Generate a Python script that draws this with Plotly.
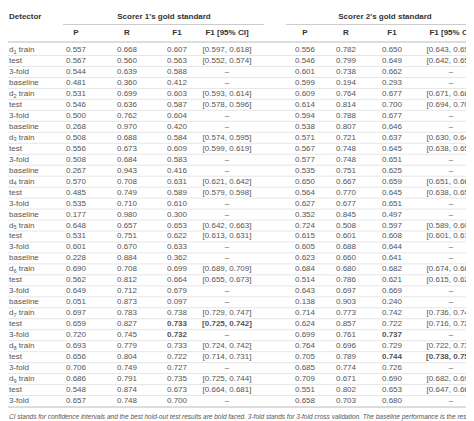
import plotly.graph_objects as go

# row labels
detectors = ["d<sub>%d</sub>" % k for k in range(1, 10)]
settings_full = ["train", "test", "3-fold", "baseline"]
settings_short = ["train", "test", "3-fold"]

# scorer 1: P, R, F1 per row
s1_p = [0.557, 0.567, 0.544, 0.481, 0.531, 0.546, 0.500, 0.268, 0.508, 0.556, 0.508, 0.267,
        0.570, 0.485, 0.535, 0.177, 0.648, 0.531, 0.601, 0.228, 0.690, 0.562, 0.649, 0.051,
        0.697, 0.659, 0.720, 0.693, 0.656, 0.706, 0.686, 0.548, 0.657]
s1_r = [0.668, 0.560, 0.639, 0.360, 0.699, 0.636, 0.762, 0.970, 0.688, 0.673, 0.684, 0.943,
        0.708, 0.749, 0.710, 0.980, 0.657, 0.751, 0.670, 0.884, 0.708, 0.812, 0.712, 0.873,
        0.783, 0.827, 0.745, 0.779, 0.804, 0.749, 0.791, 0.874, 0.748]
s1_f1 = [0.607, 0.563, 0.588, 0.412, 0.603, 0.587, 0.604, 0.420, 0.584, 0.609, 0.583, 0.416,
         0.631, 0.589, 0.610, 0.300, 0.653, 0.622, 0.633, 0.362, 0.699, 0.664, 0.679, 0.097,
         0.738, 0.733, 0.732, 0.733, 0.722, 0.727, 0.735, 0.673, 0.700]
s1_ci = [(0.597, 0.618), (0.552, 0.574), None, None, (0.593, 0.614), (0.578, 0.596), None, None,
         (0.574, 0.595), (0.599, 0.619), None, None, (0.621, 0.642), (0.579, 0.598), None, None,
         (0.642, 0.663), (0.613, 0.631), None, None, (0.689, 0.709), (0.655, 0.673), None, None,
         (0.729, 0.747), (0.725, 0.742), None, (0.724, 0.742), (0.714, 0.731), None,
         (0.725, 0.744), (0.664, 0.681), None]

# scorer 2
s2_p = [0.556, 0.546, 0.601, 0.599, 0.609, 0.614, 0.594, 0.538, 0.571, 0.567, 0.577, 0.535,
        0.650, 0.564, 0.627, 0.352, 0.724, 0.615, 0.605, 0.623, 0.684, 0.514, 0.643, 0.138,
        0.714, 0.624, 0.699, 0.764, 0.705, 0.685, 0.709, 0.551, 0.658]
s2_r = [0.782, 0.799, 0.738, 0.194, 0.764, 0.814, 0.788, 0.807, 0.721, 0.748, 0.748, 0.751,
        0.667, 0.770, 0.677, 0.845, 0.508, 0.601, 0.688, 0.660, 0.680, 0.786, 0.697, 0.903,
        0.773, 0.857, 0.761, 0.696, 0.789, 0.774, 0.671, 0.802, 0.703]
s2_f1 = [0.650, 0.649, 0.662, 0.293, 0.677, 0.700, 0.677, 0.646, 0.637, 0.645, 0.651, 0.625,
         0.659, 0.645, 0.651, 0.497, 0.597, 0.608, 0.644, 0.641, 0.682, 0.621, 0.669, 0.240,
         0.742, 0.722, 0.737, 0.729, 0.744, 0.726, 0.690, 0.653, 0.680]
s2_ci = [(0.643, 0.657), (0.642, 0.655), None, None, (0.671, 0.684), (0.694, 0.706), None, None,
         (0.630, 0.644), (0.638, 0.652), None, None, (0.651, 0.666), (0.638, 0.651), None, None,
         (0.589, 0.606), (0.601, 0.616), None, None, (0.674, 0.689), (0.615, 0.628), None, None,
         (0.736, 0.749), (0.716, 0.728), None, (0.722, 0.736), (0.738, 0.750), None,
         (0.682, 0.697), (0.647, 0.660), None]

# bold cells: (scorer, column, row)
bold_cells = {(1, "f1", 25), (1, "ci", 25), (1, "f1", 26), (2, "f1", 26), (2, "f1", 28), (2, "ci", 28)}

footnote = ["CI stands for confidence intervals and the best hold-out test results are bold faced. "
            "3-fold stands for 3-fold cross validation. The baseline performance is the result of using the suggested",
            "parameters of the original publication."]

labels = []
for k, d in enumerate(detectors):
    sets = settings_full if k < 6 else settings_short
    for j, s in enumerate(sets):
        labels.append(f"{d} train" if j == 0 else s)

W, H = 474, 421
y0, dy = 42.0, 10.97
rows_y = [y0 + i * dy for i in range(len(labels))]
FONT = "Liberation Sans, Arial, sans-serif"
GREY = "#555555"


def fmt(v):
    return f"{v:.3f}"


def fmt_ci(c):
    return "–" if c is None else f"[{c[0]:.3f}, {c[1]:.3f}]"


def cells(scorer, col, vals):
    out = []
    for i, v in enumerate(vals):
        t = v if isinstance(v, str) else fmt(v)
        if (scorer, col, i) in bold_cells:
            t = f"<b>{t}</b>"
        out.append(t)
    return out


fig = go.Figure()

columns = [
    (68, cells(1, "p", s1_p)), (119, cells(1, "r", s1_r)), (169, cells(1, "f1", s1_f1)),
    (219, cells(1, "ci", [fmt_ci(c) for c in s1_ci])),
    (297, cells(2, "p", s2_p)), (338, cells(2, "r", s2_r)), (384, cells(2, "f1", s2_f1)),
    (443, cells(2, "ci", [fmt_ci(c) for c in s2_ci])),
]
for x, texts in columns:
    fig.add_trace(go.Scatter(x=[x] * len(texts), y=rows_y, text=texts, mode="text",
                             textposition="middle center",
                             textfont=dict(family=FONT, size=8, color=GREY),
                             cliponaxis=False, hoverinfo="skip", showlegend=False))

fig.add_trace(go.Scatter(x=[1] * len(labels), y=rows_y, text=labels, mode="text",
                         textposition="middle right",
                         textfont=dict(family=FONT, size=8, color=GREY),
                         hoverinfo="skip", showlegend=False))

# headers
hdr_x = [68, 119, 169, 219, 297, 338, 384, 443]
hdr_t = ["P", "R", "F1", "F1 [95% CI]"] * 2
fig.add_trace(go.Scatter(x=hdr_x, y=[25] * 8, text=[f"<b>{t}</b>" for t in hdr_t], mode="text",
                         textfont=dict(family=FONT, size=8, color="#333333"),
                         hoverinfo="skip", showlegend=False))
fig.add_trace(go.Scatter(x=[1, 156, 377], y=[9, 9, 9],
                         text=["<b>Detector</b>", "<b>Scorer 1's gold standard</b>", "<b>Scorer 2's gold standard</b>"],
                         mode="text", textposition=["middle right", "middle center", "middle center"],
                         textfont=dict(family=FONT, size=8, color="#333333"),
                         hoverinfo="skip", showlegend=False))

shapes = [
    dict(type="line", x0=55, x1=256, y0=16.5, y1=16.5, line=dict(color="#cccccc", width=1)),
    dict(type="line", x0=278, x1=474, y0=16.5, y1=16.5, line=dict(color="#cccccc", width=1)),
    dict(type="line", x0=0, x1=474, y0=34, y1=34, line=dict(color="#bbbbbb", width=1)),
]
for y in rows_y[1:]:
    shapes.append(dict(type="line", x0=0, x1=474, y0=y - dy / 2, y1=y - dy / 2,
                       line=dict(color="#e6e6e6", width=1)))
shapes.append(dict(type="line", x0=0, x1=474, y0=rows_y[-1] + 6, y1=rows_y[-1] + 6,
                   line=dict(color="#bbbbbb", width=1)))

fig.add_trace(go.Scatter(x=[1, 1], y=[409, 419], text=[f"<i>{t}</i>" for t in footnote], mode="text",
                         textposition="middle right",
                         textfont=dict(family=FONT, size=6.5, color="#555555"),
                         hoverinfo="skip", showlegend=False))

fig.update_layout(
    width=W, height=H, margin=dict(l=0, r=0, t=0, b=0),
    paper_bgcolor="white", plot_bgcolor="white", shapes=shapes,
    xaxis=dict(range=[0, W], visible=False, fixedrange=True),
    yaxis=dict(range=[H, 0], visible=False, fixedrange=True),
)
fig.write_html("out.html")
